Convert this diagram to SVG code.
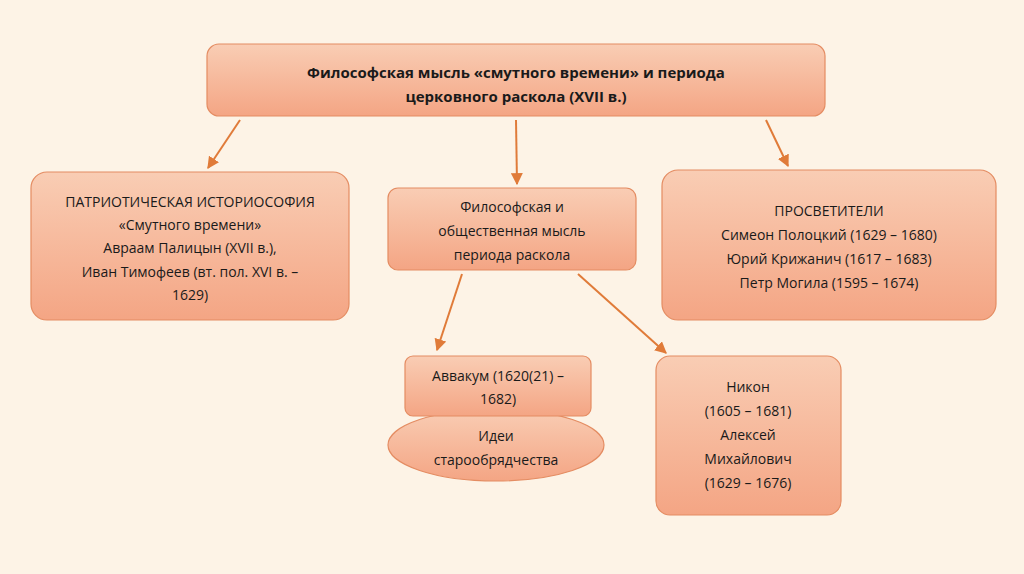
<svg xmlns="http://www.w3.org/2000/svg" width="1024" height="574" viewBox="0 0 1024 574">
<defs>
<linearGradient id="g" x1="0" y1="0" x2="0" y2="1"><stop offset="0" stop-color="#f9cdb4"/><stop offset="1" stop-color="#f4a584"/></linearGradient>
<marker id="a" viewBox="0 0 10 10" refX="9" refY="5" markerWidth="6" markerHeight="6" orient="auto"><path d="M0,0L10,5L0,10z" fill="#e07b39"/></marker>
<style>
.b{fill:url(#g);stroke:#e48c62;stroke-width:1.2}
text{font-family:"Open Sans","Liberation Sans",sans-serif;font-size:14px;fill:#1a1a1a;text-anchor:middle}
.t{font-weight:bold;font-size:15px}
.c line{stroke:#e07b39;stroke-width:2;marker-end:url(#a)}
</style>
</defs>
<rect width="1024" height="574" fill="#fdf3e6"/>
<g class="c">
<line x1="240" y1="120" x2="208" y2="168"/>
<line x1="516" y1="120" x2="517" y2="184"/>
<line x1="766" y1="120" x2="788" y2="166"/>
<line x1="462" y1="274" x2="437" y2="350"/>
<line x1="578" y1="274" x2="666" y2="353"/>
</g>
<g id="top"><rect class="b" x="207" y="44" width="618" height="72" rx="12"/>
<text class="t" x="516" y="78">Философская мысль «смутного времени» и периода</text>
<text class="t" x="516" y="102">церковного раскола (XVII в.)</text></g>
<g id="left"><rect class="b" x="31" y="172" width="318" height="148" rx="16"/>
<text x="190" y="207">ПАТРИОТИЧЕСКАЯ ИСТОРИОСОФИЯ</text>
<text x="190" y="230">«Смутного времени»</text>
<text x="190" y="253">Авраам Палицын (XVII в.),</text>
<text x="190" y="277">Иван Тимофеев (вт. пол. XVI в. –</text>
<text x="190" y="300">1629)</text></g>
<g id="mid"><rect class="b" x="388" y="188" width="248" height="82" rx="10"/>
<text x="512" y="212">Философская и</text>
<text x="512" y="236">общественная мысль</text>
<text x="512" y="260">периода раскола</text></g>
<g id="right"><rect class="b" x="662" y="170" width="334" height="150" rx="16"/>
<text x="829" y="216">ПРОСВЕТИТЕЛИ</text>
<text x="829" y="240">Симеон Полоцкий (1629 – 1680)</text>
<text x="829" y="264">Юрий Крижанич (1617 – 1683)</text>
<text x="829" y="288">Петр Могила (1595 – 1674)</text></g>
<g id="ideas"><ellipse class="b" cx="496" cy="445" rx="108" ry="36"/>
<text x="496" y="441">Идеи</text>
<text x="496" y="465">старообрядчества</text></g>
<g id="avvakum"><rect class="b" x="405" y="356" width="186" height="60" rx="8"/>
<text x="498" y="381">Аввакум (1620(21) –</text>
<text x="498" y="404">1682)</text></g>
<g id="nikon"><rect class="b" x="656" y="356" width="185" height="159" rx="14"/>
<text x="748" y="392">Никон</text>
<text x="748" y="416">(1605 – 1681)</text>
<text x="748" y="440">Алексей</text>
<text x="748" y="464">Михайлович</text>
<text x="748" y="488">(1629 – 1676)</text></g>
</svg>
